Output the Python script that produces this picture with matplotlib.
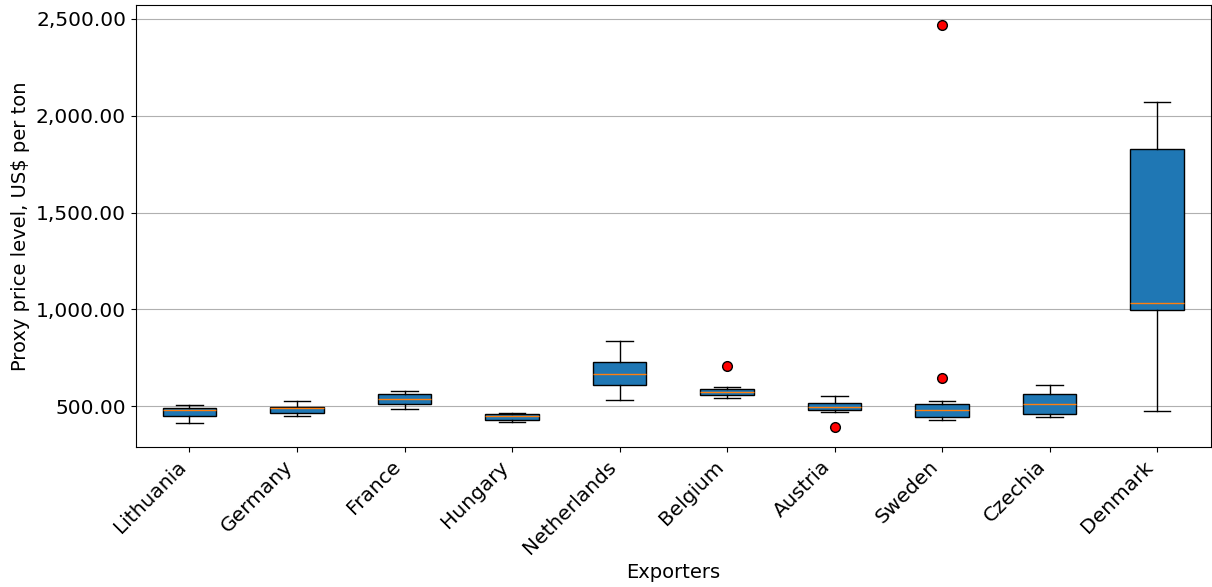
import numpy as np
import matplotlib.pyplot as plt
from matplotlib.ticker import FuncFormatter

exporters = ['Lithuania', 'Germany', 'France', 'Hungary', 'Netherlands',
             'Belgium', 'Austria', 'Sweden', 'Czechia', 'Denmark']
whislo = [413, 448, 487, 420, 530, 544, 468, 427, 446, 477]
q1 = [449, 465, 513, 429, 609, 559, 482, 444, 458, 998]
med = [482, 489, 539, 451, 664, 573, 497, 482, 513, 1034]
q3 = [491, 496, 561, 460, 728, 589, 518, 509, 561, 1827]
whishi = [504, 525, 578, 466, 834, 599, 551, 528, 607, 2070]
fliers = [[], [], [], [], [], [709], [391], [643, 2467], [], []]

stats = []
for i in range(len(exporters)):
    stats.append(dict(label=exporters[i], whislo=whislo[i], q1=q1[i], med=med[i],
                      q3=q3[i], whishi=whishi[i], fliers=fliers[i]))

fig, ax = plt.subplots(figsize=(12.12, 5.87), dpi=100)
ax.bxp(stats, patch_artist=True,
       boxprops=dict(facecolor='#1f77b4', edgecolor='black'),
       medianprops=dict(color='#ff7f0e'),
       flierprops=dict(marker='o', markerfacecolor='red', markeredgecolor='black',
                       markersize=7))

ax.yaxis.grid(True, color='#b0b0b0')
ax.set_axisbelow(True)
ax.yaxis.set_major_formatter(FuncFormatter(lambda v, p: f'{v:,.2f}'))
ax.tick_params(labelsize=14.5)
plt.setp(ax.get_xticklabels(), rotation=45, ha='right')
ax.set_xlabel('Exporters', fontsize=14)
ax.set_ylabel('Proxy price level, US$ per ton', fontsize=14)

plt.subplots_adjust(left=0.112, right=0.999, top=0.991, bottom=0.238)
plt.savefig('out.png')
